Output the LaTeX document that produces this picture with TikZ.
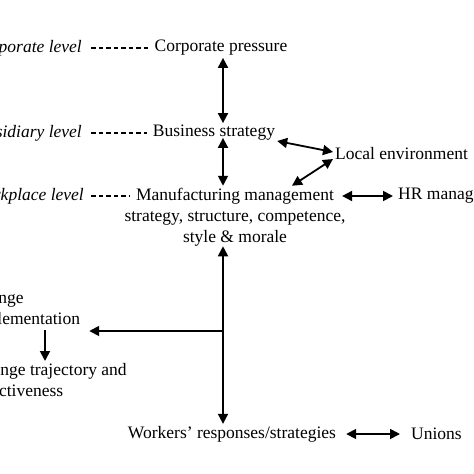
\documentclass[tikz,border=0pt]{standalone}
\usepackage{fontspec}
\setmainfont{Liberation Serif}
\usetikzlibrary{arrows.meta, positioning}
\tikzstyle{txt} = [font=\fontsize{17.5}{21}\selectfont, inner sep=2pt]
\tikzstyle{level} = [txt, font=\fontsize{17.5}{21}\selectfont\itshape, anchor=east]
\tikzstyle{dots} = [line width=1.5pt, dash pattern=on 4.5pt off 3pt]
\tikzstyle{link} = [line width=1.8pt, {Triangle[length=10pt,width=10pt]}-{Triangle[length=10pt,width=10pt]}]
\tikzstyle{arrow} = [line width=1.8pt, -{Triangle[length=10pt,width=10pt]}]

\begin{document}
\begin{tikzpicture}[x=1pt, y=-1pt]
    \useasboundingbox (0,0) rectangle (474,474);
    \clip (0,0) rectangle (474,474);
    \coordinate (spine) at (223,0);
    \coordinate (chg) at (45,0);
    \coordinate (fork) at (223,331);

    \node (corpl) [level] at (84,48) {Corporate level};
    \node (subl) [level] at (84,133) {Subsidiary level};
    \node (workl) [level] at (86,196) {Workplace level};

    \node (corp) [txt] at (221,48) {Corporate pressure};
    \node (bus) [txt] at (214,133) {Business strategy};
    \node (env) [txt, anchor=west] at (333,154) {Local environment};
    \node (mm) [txt] at (235,196) {Manufacturing management};
    \node (mmx) [txt, align=center, below=3pt of mm] {strategy, structure, competence,\\style \& morale};
    \node (hr) [txt, anchor=west] at (396,196) {HR management};
    \node (impl) [txt, anchor=north west, align=left] at (-32,289) {Change\\implementation};
    \node (traj) [txt, anchor=north west, align=left] at (-30,361) {Change trajectory and\\effectiveness};
    \node (work) [txt] at (232,434) {Workers' responses/strategies};
    \node (unions) [txt, anchor=west] at (409,434) {Unions};

    \draw [dots, shorten <=7pt, shorten >=4pt] (corpl) -- (corp);
    \draw [dots, shorten <=7pt, shorten >=4pt] (subl) -- (bus);
    \draw [dots, shorten <=5pt, shorten >=4pt] (workl) -- (mm);

    \draw [link] (corp.south -| spine) -- (bus.north -| spine);
    \draw [link, shorten <=-5pt] (bus.south -| spine) -- (mm.north -| spine);
    \draw [link] ([yshift=-8pt]bus.east) -- ([yshift=2pt]env.west);
    \draw [link] ([yshift=-5pt]env.west) -- ([xshift=57pt]mm.north);
    \draw [link, shorten <=6pt, shorten >=3pt] (mm.east) -- (hr.west);
    \draw [link, shorten <=-2pt] (mmx.south -| spine) -- (work.north -| spine);
    \draw [arrow] (fork) -- ([xshift=7pt]impl.east |- fork);
    \draw [arrow] (impl.south -| chg) -- (traj.north -| chg);
    \draw [link, shorten <=8pt, shorten >=9pt] (work.east) -- (unions.west);
\end{tikzpicture}
\end{document}
